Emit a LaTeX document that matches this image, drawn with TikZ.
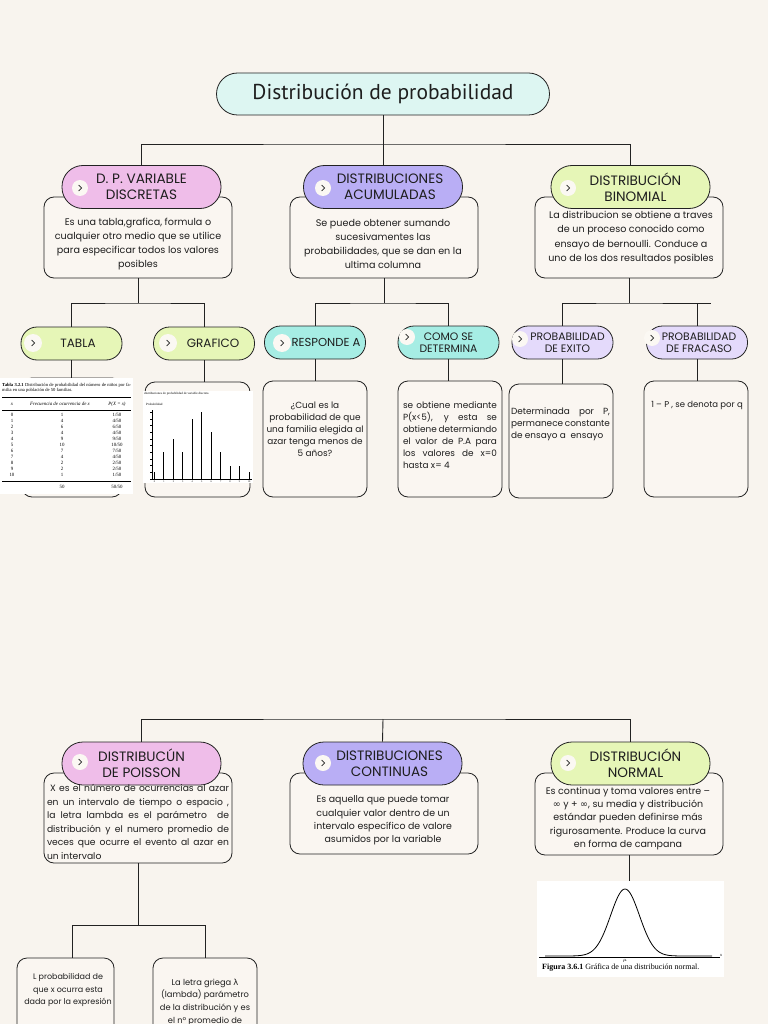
\documentclass[tikz,border=0pt]{standalone}
\usepackage{fontspec}
\setmainfont{Poppins}
\newfontfamily\titlefont{PT Sans}
\newfontfamily\imgfont{Liberation Serif}
\newfontfamily\symfont{DejaVu Sans}
\usetikzlibrary{positioning}

\definecolor{bgc}{HTML}{F8F4EE}
\definecolor{boxc}{HTML}{FAF6F1}
\definecolor{linec}{HTML}{222222}
\definecolor{textc}{HTML}{1E1E1E}
\definecolor{titlec}{HTML}{DDF6F2}
\definecolor{pinkc}{HTML}{EFBDE9}
\definecolor{purplec}{HTML}{B9AEF5}
\definecolor{greenc}{HTML}{E6F6B7}
\definecolor{cyanc}{HTML}{A6EDE4}
\definecolor{lavc}{HTML}{E4DAFB}
\definecolor{iconc}{HTML}{FBF8F3}

\begin{document}
\begin{tikzpicture}[x=1pt, y=-1pt,
    pill/.style={draw=linec, line width=0.8pt, rounded corners=21pt, minimum width=159pt, minimum height=43pt, align=center, inner sep=0pt, text=textc, font=\fontsize{13.6}{16}\selectfont},
    smallpill/.style={pill, rounded corners=16pt, minimum width=101pt, minimum height=33pt, font=\fontsize{10.8}{12.2}\selectfont},
    box/.style={draw=linec, line width=0.8pt, rounded corners=10pt, fill=boxc},
    txt/.style={align=center, inner sep=0pt, text=textc, font=\fontsize{9.6}{14.2}\selectfont},
    smalltxt/.style={txt, font=\fontsize{8.9}{12}\selectfont},
    icon/.style={circle, fill=iconc, minimum size=16pt, inner sep=0pt,
        path picture={\draw[linec, line width=0.6pt] ([xshift=-1.4pt, yshift=3pt]path picture bounding box.center) -- ++(3pt,-3pt) -- ++(-3pt,-3pt);}},
    conn/.style={draw=linec, line width=0.9pt},
    img/.style={fill=white, inner sep=0pt},
    imgtxt/.style={inner sep=0pt, font=\imgfont\fontsize{4.9}{5.4}\selectfont}
]
    \useasboundingbox (0,0) rectangle (768,1024);
    \clip (0,0) rectangle (768,1024);
    \fill[bgc] (0,0) rectangle (768,1024);

    % Titulo
    \node[pill, fill=titlec, minimum width=333pt, minimum height=42pt, font=\titlefont\fontsize{21.5}{24}\selectfont] (titulo) at (383,94) {Distribución de probabilidad};

    % Cajas nivel 1
    \node[box, minimum width=188pt, minimum height=81pt] (dpvdbox) at (138,237.5) {};
    \node[box, minimum width=188pt, minimum height=81pt] (acumbox) at (384,237.5) {};
    \node[box, minimum width=188pt, minimum height=81pt] (binombox) at (629,237.5) {};

    % Ramas nivel 1
    \node[pill, fill=pinkc] (dpvd) at (141.5,187) {D. P. VARIABLE\\DISCRETAS};
    \node[pill, fill=purplec] (acum) at (383,187) {\hspace*{14pt}DISTRIBUCIONES\\\hspace*{14pt}ACUMULADAS};
    \node[pill, fill=greenc] (binom) at (630.5,187) {\hspace*{10pt}DISTRIBUCIÓN\\\hspace*{10pt}BINOMIAL};
    \node[icon] (dpvdic) at (80,188) {};
    \node[icon] (acumic) at (323,188) {};
    \node[icon] (binomic) at (568,188) {};

    \node[txt] (dpvdtxt) at (138,244) {Es una tabla,grafica, formula o\\cualquier otro medio que se utilice\\para especificar todos los valores\\posibles};
    \node[txt] (acumtxt) at (383,244) {Se puede obtener sumando\\sucesivamentes las\\probabilidades, que se dan en la\\ultima columna};
    \node[txt] (binomtxt) at (631,237.5) {La distribucion se obtiene a traves\\de un proceso conocido como\\ensayo de bernoulli. Conduce a\\uno de los dos resultados posibles};

    % Cajas nivel 2
    \node[box, minimum width=100pt, minimum height=119pt] (tablabox) at (72,437.5) {};
    \node[img, minimum width=133pt, minimum height=116pt] (tablaimg) at (66.5,436) {};
    \node[box, minimum width=105pt, minimum height=115pt] (grafbox) at (197.5,439.5) {};
    \node[img, minimum width=110pt, minimum height=92pt] (grafimg) at (198,437) {};
    \node[box, minimum width=104pt, minimum height=116pt] (respbox) at (315,439) {};
    \node[box, minimum width=104pt, minimum height=116pt] (comobox) at (450,439) {};
    \node[box, minimum width=104pt, minimum height=114pt] (exitobox) at (561,441) {};
    \node[box, minimum width=104pt, minimum height=116pt] (fracbox) at (696,439) {};

    % Ramas nivel 2
    \node[smallpill, fill=greenc, font=\fontsize{12}{13}\selectfont] (tabla) at (71.5,343.5) {\hspace*{13pt}TABLA};
    \node[smallpill, fill=greenc, font=\fontsize{12}{13}\selectfont] (grafico) at (204,343.5) {\hspace*{18pt}GRAFICO};
    \node[smallpill, fill=cyanc, font=\fontsize{11.6}{13}\selectfont] (responde) at (315,342.5) {\hspace*{22pt}RESPONDE A};
    \node[smallpill, fill=cyanc] (como) at (448.5,342.5) {COMO SE\\DETERMINA};
    \node[smallpill, fill=lavc] (exito) at (562.5,342.5) {\hspace*{10pt}PROBABILIDAD\\\hspace*{10pt}DE EXITO};
    \node[smallpill, fill=lavc] (fracaso) at (697,342.5) {\hspace*{4pt}PROBABILIDAD\\\hspace*{4pt}DE FRACASO};
    \node[icon, minimum size=18pt] (tablaic) at (33,343) {};
    \node[icon, minimum size=18pt] (grafic) at (168,343) {};
    \node[icon, minimum size=18pt] (respic) at (282,343) {};
    \node[icon] (comoic) at (407,337) {};
    \node[icon] (exitoic) at (520,339) {};
    \node[icon] (fracic) at (652,338) {};

    \node[smalltxt] (resptxt) at (315,429) {¿Cual es la\\probabilidad de que\\una familia elegida al\\azar tenga menos de\\5 años?};
    \node[smalltxt, text width=94pt, align=justify] (comotxt) at (450,435) {se obtiene mediante\linebreak P(x<5), y esta se\linebreak obtiene determiando\linebreak el valor de P.A para\linebreak los valores de x=0\linebreak hasta x= 4};
    \node[smalltxt, text width=99pt, align=justify] (exitotxt) at (560.5,424) {Determinada por P,\linebreak permanece constante\linebreak de ensayo a \ ensayo};
    \node[smalltxt, font=\fontsize{8.5}{12}\selectfont] (fractxt) at (697,405) {1 – P , se denota por q};

    % Tabla (imagen)
    \node[imgtxt, anchor=north west, text width=129pt, align=justify, font=\imgfont\fontsize{4.6}{5}\selectfont] (tabtit) at (2,383) {{\bfseries Tabla 3.2.1} Distribución de probabilidad del número de niños por familia en una población de 50 familias.};
    \draw[line width=0.3pt] (2,397) -- (131,397) (2,410) -- (131,410) (2,481) -- (131,481);
    \node[imgtxt] (tabhx) at (12,404) {\itshape x};
    \node[imgtxt] (tabhf) at (60,404) {\itshape Frecuencia de ocurrencia de x};
    \node[imgtxt] (tabhp) at (117,404) {\itshape P(X = x)};
    \foreach \x/\f [count=\i from 0] in {0/1,1/4,2/6,3/4,4/9,5/10,6/7,7/4,8/2,9/2,10/1} {
        \node[imgtxt] at (12,{415+6*\i}) {\x};
        \node[imgtxt] at (62,{415+6*\i}) {\f};
        \node[imgtxt] at (117,{415+6*\i}) {\f/50};
    }
    \node[imgtxt] (tabtot) at (62,487) {50};
    \node[imgtxt] (tabtotp) at (117,487) {50/50};

    % Grafico (imagen)
    \node[imgtxt, anchor=west, font=\imgfont\fontsize{3.2}{3.5}\selectfont] (graftit) at (144,393.5) {distribuciones de probabilidad de variable discreta};
    \node[imgtxt, anchor=west, font=\imgfont\fontsize{3.2}{3.5}\selectfont] (grafylab) at (146,404) {Probabilidad};
    \draw[line width=0.3pt] (152,410) -- (152,479) -- (252,479);
    \foreach \t in {0,...,10} {
        \draw[line width=0.3pt] (150,{479-6.7*\t}) -- (152,{479-6.7*\t});
        \node[imgtxt, font=\imgfont\fontsize{2.5}{3}\selectfont] at ({154.5+9.45*\t},481.5) {\t};
    }
    \foreach \v [count=\i from 0] in {1,4,6,4,9,10,7,4,2,2,1}
        \draw[line width=1pt] ({154.5+9.45*\i},479) -- ++(0,{-6.7*\v});

    % Segunda parte
    \coordinate (k1) at (383,719);
    \node[box, minimum width=188pt, minimum height=90pt] (poisbox) at (138,818) {};
    \node[box, minimum width=188pt, minimum height=81pt] (contbox) at (384,813.5) {};
    \node[box, minimum width=188pt, minimum height=82pt] (normbox) at (629,814) {};

    \node[pill, fill=pinkc] (poisson) at (141.5,763.5) {DISTRIBUCÚN\\DE POISSON};
    \node[pill, fill=purplec] (contin) at (382.5,763.5) {\hspace*{14pt}DISTRIBUCIONES\\\hspace*{14pt}CONTINUAS};
    \node[pill, fill=greenc] (normal) at (630.5,763.5) {\hspace*{10pt}DISTRIBUCIÓN\\\hspace*{10pt}NORMAL};
    \node[icon] (poisic) at (80,762) {};
    \node[icon] (contic) at (323,763) {};
    \node[icon] (normic) at (568,763) {};

    \node[txt, text width=182pt, align=justify, font=\fontsize{9.2}{13.6}\selectfont] (poistxt) at (138,822) {\hspace*{3pt}X es el número de ocurrencias al azar\linebreak en un intervalo de tiempo o espacio ,\linebreak la letra lambda es el parámetro \ de\linebreak distribución y el numero promedio de\linebreak veces que ocurre el evento al azar en\linebreak un intervalo};
    \node[txt, font=\fontsize{9.4}{13.3}\selectfont] (conttxt) at (383,820.5) {Es aquella que puede tomar\\cualquier valor dentro de un\\intervalo específico de valore\\asumidos por la variable};
    \node[txt, font=\fontsize{9.5}{13.3}\selectfont] (normtxt) at (628,818.5) {Es continua y toma valores entre –\\{\symfont ∞} y + {\symfont ∞}, su media y distribución\\estándar pueden definirse más\\rigurosamente. Produce la curva\\en forma de campana};

    % Curva normal (imagen)
    \node[img, minimum width=187pt, minimum height=96pt] (normimg) at (630.5,929) {};
    \draw[line width=0.5pt] (539,957) -- (720,957);
    \draw[line width=0.8pt] plot[domain=545:712, samples=120] (\x,{956-67*exp(-0.5*((\x-625)/14.4)^2)});
    \node[imgtxt, font=\fontsize{4}{4}\selectfont] (mu) at (625,961) {$\mu$};
    \node[imgtxt, font=\imgfont\itshape\fontsize{4.5}{5}\selectfont] (xlab) at (721,955) {x};
    \node[imgtxt, anchor=west, font=\imgfont\fontsize{8}{8}\selectfont] (normcap) at (542,967.5) {{\bfseries Figura 3.6.1} Gráfica de una distribución normal.};

    % Poisson abajo
    \coordinate (k2) at (138,925);
    \coordinate (k3) at (72,925);
    \coordinate (k4) at (205,925);
    \node[box, minimum width=97pt, minimum height=130pt] (lprobbox) at (65.5,1023) {};
    \node[box, minimum width=104pt, minimum height=130pt] (lambbox) at (205,1023) {};
    \node[smalltxt, font=\fontsize{8}{12.5}\selectfont] (lprobtxt) at (68,990) {L probabilidad de\\que x ocurra esta\\dada por la expresión};
    \node[smalltxt, font=\fontsize{8.3}{12.7}\selectfont] (lambtxt) at (205,1002) {La letra griega {\symfont λ}\\(lambda) parámetro\\de la distribución y es\\el nº promedio de};

    % Conectores
    \coordinate (j1) at (383,144);
    \coordinate (j2) at (138,303);
    \coordinate (j3) at (384,303);
    \coordinate (j4) at (629,303);
    \coordinate (j4e) at (711,303);
    \draw[conn] (titulo) -- (j1);
    \draw[conn] (dpvd.north) |- (j1) -| (binom.north);
    \draw[conn] (j1) -- (acum.north);
    \draw[conn] (dpvdbox) -- (j2);
    \draw[conn] (tabla.north) |- (j2) -| (grafico.north);
    \draw[conn] (acumbox) -- (j3);
    \draw[conn] (responde.north) |- (j3) -| (como.north);
    \draw[conn] (binombox) -- (j4);
    \draw[conn] (exito.north) |- (j4) -| (fracaso.north);
    \draw[conn] (fracaso.north |- j4) -- (j4e);
    \draw[conn] (tabla.south) -- (tabla.south |- tablaimg.north);
    \draw[conn] (grafico.south) -- (grafico.south |- grafbox.north);
    \draw[conn] (responde.south) -- (responde.south |- respbox.north);
    \draw[conn] (como.south) -- (como.south |- comobox.north);
    \draw[conn] (exito.south) -- (exito.south |- exitobox.north);
    \draw[conn] (fracaso.south) -- (fracaso.south |- fracbox.north);
    \draw[conn] (poisson.north) |- (k1) -| (normal.north);
    \draw[conn] (k1) -- (contin.north);
    \draw[conn] (normbox.south) -- (normbox.south |- normimg.north);
    \draw[conn] (poisbox) -- (k2);
    \draw[conn] (k3 |- lprobbox.north) |- (k2) -| (k4 |- lambbox.north);
\end{tikzpicture}
\end{document}
